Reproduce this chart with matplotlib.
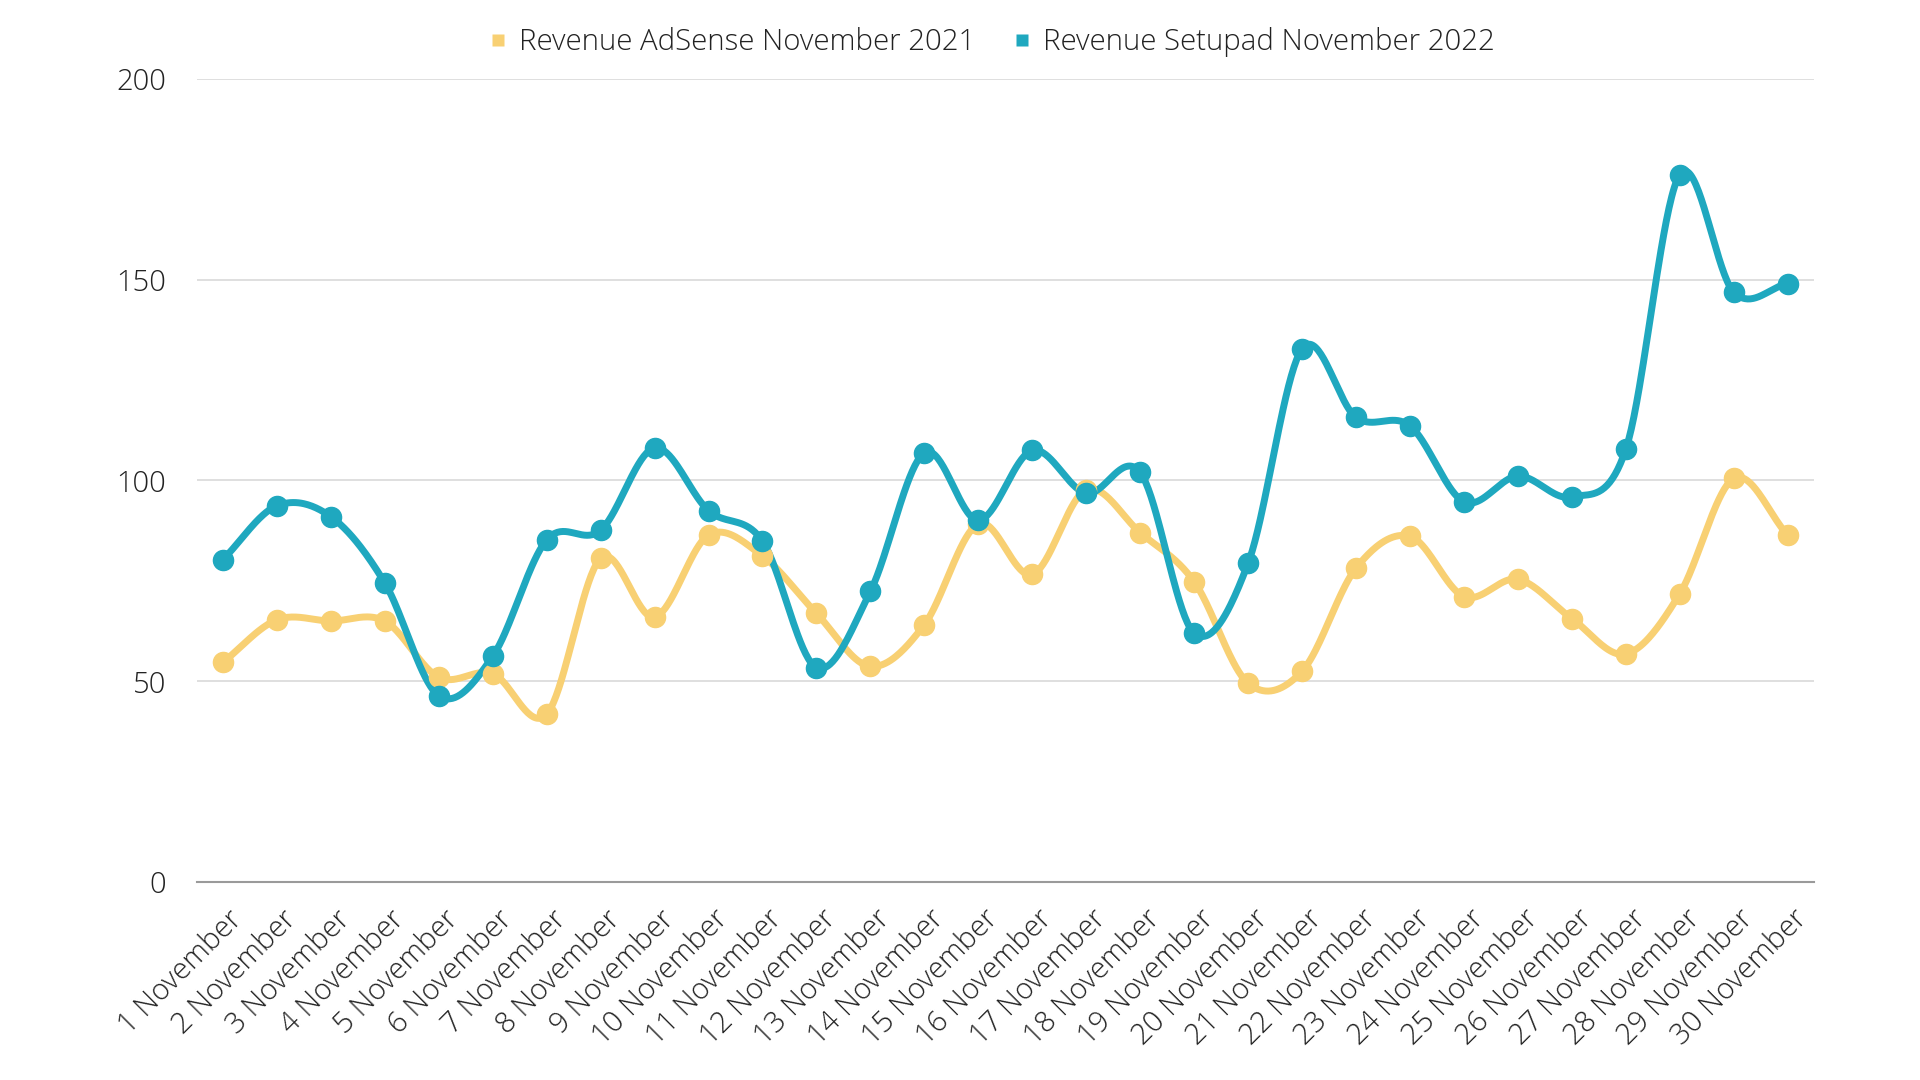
import numpy as np
import matplotlib
matplotlib.use("Agg")
import matplotlib.pyplot as plt
import matplotlib.transforms as mtransforms
from matplotlib.lines import Line2D

days = [f"{d} November" for d in range(1, 31)]
adsense_2021 = [54.7, 65.3, 65.0, 65.0, 51.0, 51.9, 41.8, 80.6, 66.0, 86.4,
                81.2, 66.9, 53.7, 64.1, 89.2, 76.6, 97.7, 87.0, 74.8, 49.5,
                52.5, 78.2, 86.1, 71.1, 75.4, 65.6, 56.8, 71.8, 100.5, 86.4]
setupad_2022 = [80.3, 93.7, 91.0, 74.5, 46.4, 56.2, 85.2, 87.6, 108.1, 92.5,
                84.9, 53.4, 72.4, 106.9, 90.1, 107.5, 96.8, 102.0, 62.0, 79.4,
                132.8, 115.7, 113.6, 94.7, 101.1, 95.9, 107.8, 176.2, 146.9, 149.0]
series_names = ["Revenue AdSense November 2021", "Revenue Setupad November 2022"]
colors = ["#F8D073", "#1FA8BF"]
yticks = [0, 50, 100, 150, 200]

plt.rcParams['font.family'] = ['Open Sans', 'DejaVu Sans']


def smooth(y, n=40, tension=0.5):
    y = np.asarray(y, float)
    x = np.arange(len(y), dtype=float)
    m = np.zeros_like(y)
    m[1:-1] = (y[2:] - y[:-2]) / 2.0
    m[0] = (y[1] - y[0])
    m[-1] = (y[-1] - y[-2])
    m *= (tension / 0.5)
    xs, ys = [], []
    for i in range(len(y) - 1):
        t = np.linspace(0, 1, n, endpoint=(i == len(y) - 2))
        h00 = 2 * t**3 - 3 * t**2 + 1
        h10 = t**3 - 2 * t**2 + t
        h01 = -2 * t**3 + 3 * t**2
        h11 = t**3 - t**2
        ys.append(h00 * y[i] + h10 * m[i] + h01 * y[i + 1] + h11 * m[i + 1])
        xs.append(x[i] + t)
    return np.concatenate(xs), np.concatenate(ys)


fig = plt.figure(figsize=(19.2, 10.8), dpi=100)
ax = fig.add_axes([0.1026, 0.1833, 0.842, 0.7436])

x = np.arange(len(days))
for vals, c in zip([adsense_2021, setupad_2022], colors):
    sx, sy = smooth(vals)
    ax.plot(sx, sy, color=c, lw=5, solid_capstyle='round', zorder=3)
    ax.plot(x, vals, 'o', color=c, ms=14.5, zorder=4)

ax.set_ylim(0, 200)
ax.set_xlim(-0.48, len(days) - 1 + 0.48)
ax.set_yticks(yticks)
ax.set_yticklabels([str(v) for v in yticks])
ax.grid(axis='y', color='#D9D9D9', lw=1.2, zorder=0)
ax.set_axisbelow(True)
for s in ['top', 'right', 'left']:
    ax.spines[s].set_visible(False)
ax.spines['bottom'].set_color('#9A9A9A')
ax.spines['bottom'].set_linewidth(1.5)
ax.tick_params(axis='both', length=0, labelsize=21, colors='#222222')
ax.tick_params(axis='y', pad=22)
ax.set_xticks(x)
ax.set_xticklabels(days, rotation=45, ha='right', va='top', rotation_mode='anchor',
                   fontweight='light')
ax.tick_params(axis='x', pad=16)
offset = mtransforms.ScaledTranslation(5 / 100, 0, fig.dpi_scale_trans)
for lab in ax.get_xticklabels():
    lab.set_transform(lab.get_transform() + offset)
for lab in ax.get_yticklabels():
    lab.set_fontweight('light')

handles = [Line2D([0], [0], marker='s', color='none', markerfacecolor=c,
                  markeredgecolor='none', markersize=9) for c in colors]
leg = fig.legend(handles, series_names, loc='center', bbox_to_anchor=(0.515, 0.961),
                 ncol=2, frameon=False, handletextpad=0.2,
                 columnspacing=1.1, handlelength=1.0,
                 prop={'family': ['Open Sans', 'DejaVu Sans'], 'weight': 'light', 'size': 21.2})
for t in leg.get_texts():
    t.set_color('#222222')

fig.savefig("out.png", dpi=100, facecolor='white')
